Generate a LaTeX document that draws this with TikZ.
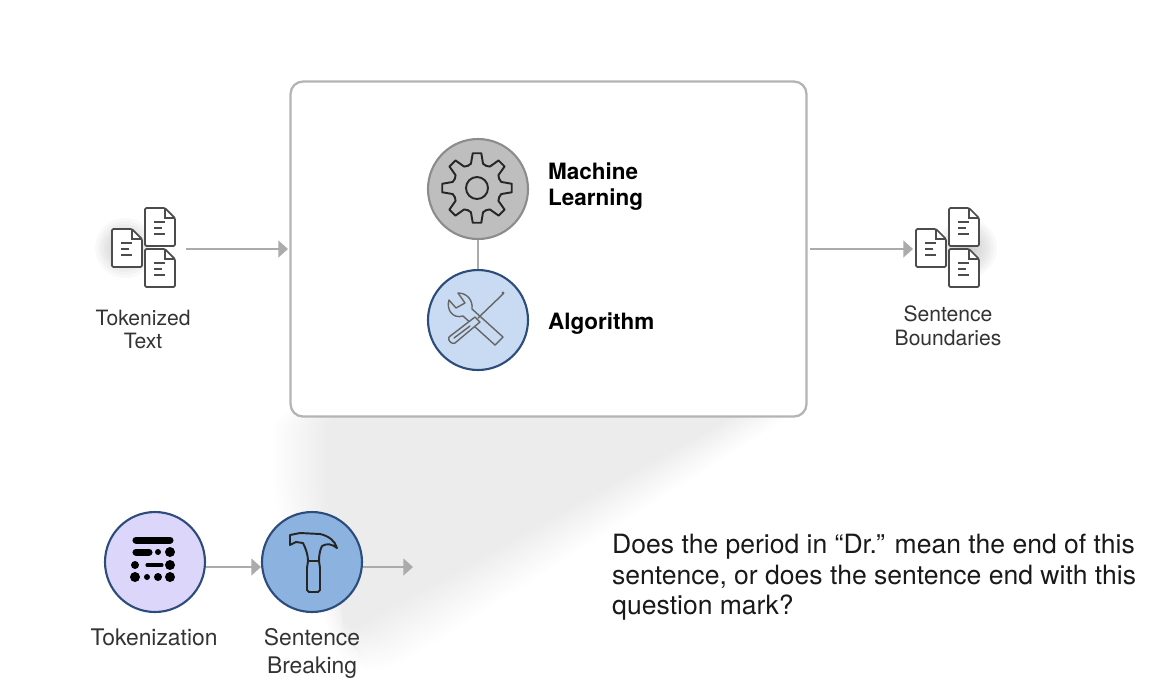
\documentclass[tikz,border=0pt]{standalone}
\usepackage{fontspec}
\setmainfont{TeX Gyre Heros}
\usetikzlibrary{arrows.meta}
\definecolor{arrowgray}{HTML}{ABABAB}
\definecolor{boxgray}{HTML}{B4B4B4}
\definecolor{geargray}{HTML}{BEBEBE}
\definecolor{algoblue}{HTML}{C9DBF2}
\definecolor{hammerblue}{HTML}{8CB2E0}
\definecolor{tokenlilac}{HTML}{DCD6FB}
\definecolor{ringblue}{HTML}{2C4C7C}
\tikzset{
  step circle/.style={draw=ringblue, line width=1.2pt, circle, minimum size=2cm, inner sep=0pt},
  flow/.style={draw=arrowgray, line width=1.3pt, -{Triangle[length=5.5pt,width=9.5pt]}},
  label text/.style={align=center, font=\fontsize{12}{13.5}\selectfont, text=black!80},
  bold text/.style={align=left, font=\fontsize{12.8}{14.8}\selectfont\bfseries},
  icon/.style={draw=black!85, line width=1.1pt, line join=round, line cap=round},
  tool/.style={draw=black!60, line width=0.8pt, line join=round, line cap=round},
  sheet/.style={draw=black!70, line width=1pt, fill=white, rounded corners=0.8pt},
  pics/docsheet/.style={code={
    \draw[sheet] (-15,-19) -- (5,-19) -- (15,-9) -- (15,19) -- (-15,19) -- cycle;
    \draw[draw=black!70, line width=0.7pt] (5,-19) -- (5,-9) -- (15,-9);
    \foreach \yy/\xx in {-5/5,1/2,7/5}
      \draw[draw=black!70, line width=0.8pt] (-6,\yy) -- (\xx,\yy);
  }},
  pics/docset/.style={code={
    \foreach \rr in {6,9,...,30}
      \fill[black, opacity=0.022] (#1,0) circle (\rr);
    \pic at (-16,0) {docsheet};
    \pic at (17,-21) {docsheet};
    \pic at (17,20) {docsheet};
  }}
}
\begin{document}
\begin{tikzpicture}[x=0.02cm,y=-0.02cm]
  \useasboundingbox (0,0) rectangle (1156,698);
  % soft shadow below the box
  \foreach \ss in {0,3,...,54}
    \fill[black, opacity=0.005, rounded corners=14pt]
      (272+\ss,410) -- (800-\ss,410) -- (392-\ss,670-0.6*\ss) -- (345,670-0.9*\ss) -- (272+\ss,500) -- cycle;
  \node[draw=boxgray, line width=1.3pt, rounded corners=7pt, fill=white, minimum width=10.32cm, minimum height=6.7cm](box) at (548.5,249){};
  \node[step circle, draw=black!45, fill=geargray](gear) at (478,189){};
  \node[step circle, fill=algoblue](algo) at (478,320){};
  \draw[draw=arrowgray, line width=1.3pt](gear)--(algo);
  \node[bold text, anchor=west](mllabel) at (542,186.5){Machine\\Learning};
  \node[bold text, anchor=west](algolabel) at (542,324){Algorithm};
  % gear teeth
  \begin{scope}[shift={(477,188)}]
    \foreach \aa in {0,45,...,315}
      \draw[icon] (\aa-22.5:24) -- (\aa-14:25) -- (\aa-7:35) -- (\aa+7:35) -- (\aa+14:25) -- (\aa+22.5:24);
    \draw[icon] (0,0) circle (11);
  \end{scope}
  % wrench and screwdriver
  \draw[tool] (458,293) .. controls (467,293) and (473,300) .. (472,309) -- (503,337) -- (495,345)
    -- (463,316) .. controls (453,319) and (446,310) .. (449,300) -- (456,308) -- (465,303) -- cycle;
  \draw[tool, fill=algoblue] (449,337) -- (475,317) -- (480,322) -- (455,343) .. controls (452,345) and (447,340) .. (449,337) -- cycle;
  \draw[tool] (478,318) -- (503,294);
  \fill[black!60] (503,293) circle (1.6);
  \draw[tool] (454,338) -- (470,326);
  % input and output documents
  \pic at (143,248) {docset=-18};
  \pic at (947,248) {docset=20};
  \node[label text](tokentext) at (143,329.5){Tokenized\\Text};
  \node[label text](boundaries) at (948,325.5){Sentence\\Boundaries};
  \coordinate (inlet) at (186,249);
  \coordinate (outlet) at (810,249);
  \coordinate (inicon) at (288,249);
  \coordinate (outicon) at (913,249);
  \draw[flow](inlet)--(inicon);
  \draw[flow](outlet)--(outicon);
  % pipeline
  \node[step circle, fill=tokenlilac](token) at (155,562){};
  \node[step circle, fill=hammerblue](hammer) at (312,562){};
  \coordinate (next) at (413,567);
  \draw[flow](token.east |- next)--(hammer.west |- next);
  \draw[flow](hammer.east |- next)--(next);
  \node[label text, font=\fontsize{13}{13.5}\selectfont](tokenlabel) at (154,637){Tokenization};
  \node[label text, font=\fontsize{13}{16}\selectfont](breaklabel) at (312,653.5){Sentence\\Breaking};
  % token glyphs
  \begin{scope}[line cap=round, black]
    \draw[line width=4pt] (136,540) -- (170,540);
    \draw[line width=4pt] (136,552) -- (149,552);
    \draw[line width=1.8pt] (147,565) -- (162,565);
  \end{scope}
  \foreach \px/\py/\pr in {158/552/3,170/552/5,135/565/4,170/565/5,135/577/5,147/577/3,158/577/4,170/577/5}
    \fill (\px,\py) circle (\pr);
  % hammer
  \draw[icon]
    (290,535) -- (300,533) -- (320,534) .. controls (329,536) and (335,541) .. (337,548)
    .. controls (332,544) and (327,543) .. (322,546) .. controls (320,550) and (319,555) .. (319,561)
    -- (320,568) -- (320,590) -- (318,592) -- (309,592) -- (307,590) -- (307,568) -- (308,561)
    .. controls (308,555) and (306,549) .. (303,543) -- (296,542) -- (290,545) -- cycle;
  \draw[icon] (308,561) -- (319,561);
  % quotation
  \node[align=left, anchor=north west, font=\fontsize{15.1}{17.4}\selectfont, text=black!90](question) at (606,528){Does the period in “Dr.” mean the end of this\\sentence, or does the sentence end with this\\question mark?};
\end{tikzpicture}
\end{document}
